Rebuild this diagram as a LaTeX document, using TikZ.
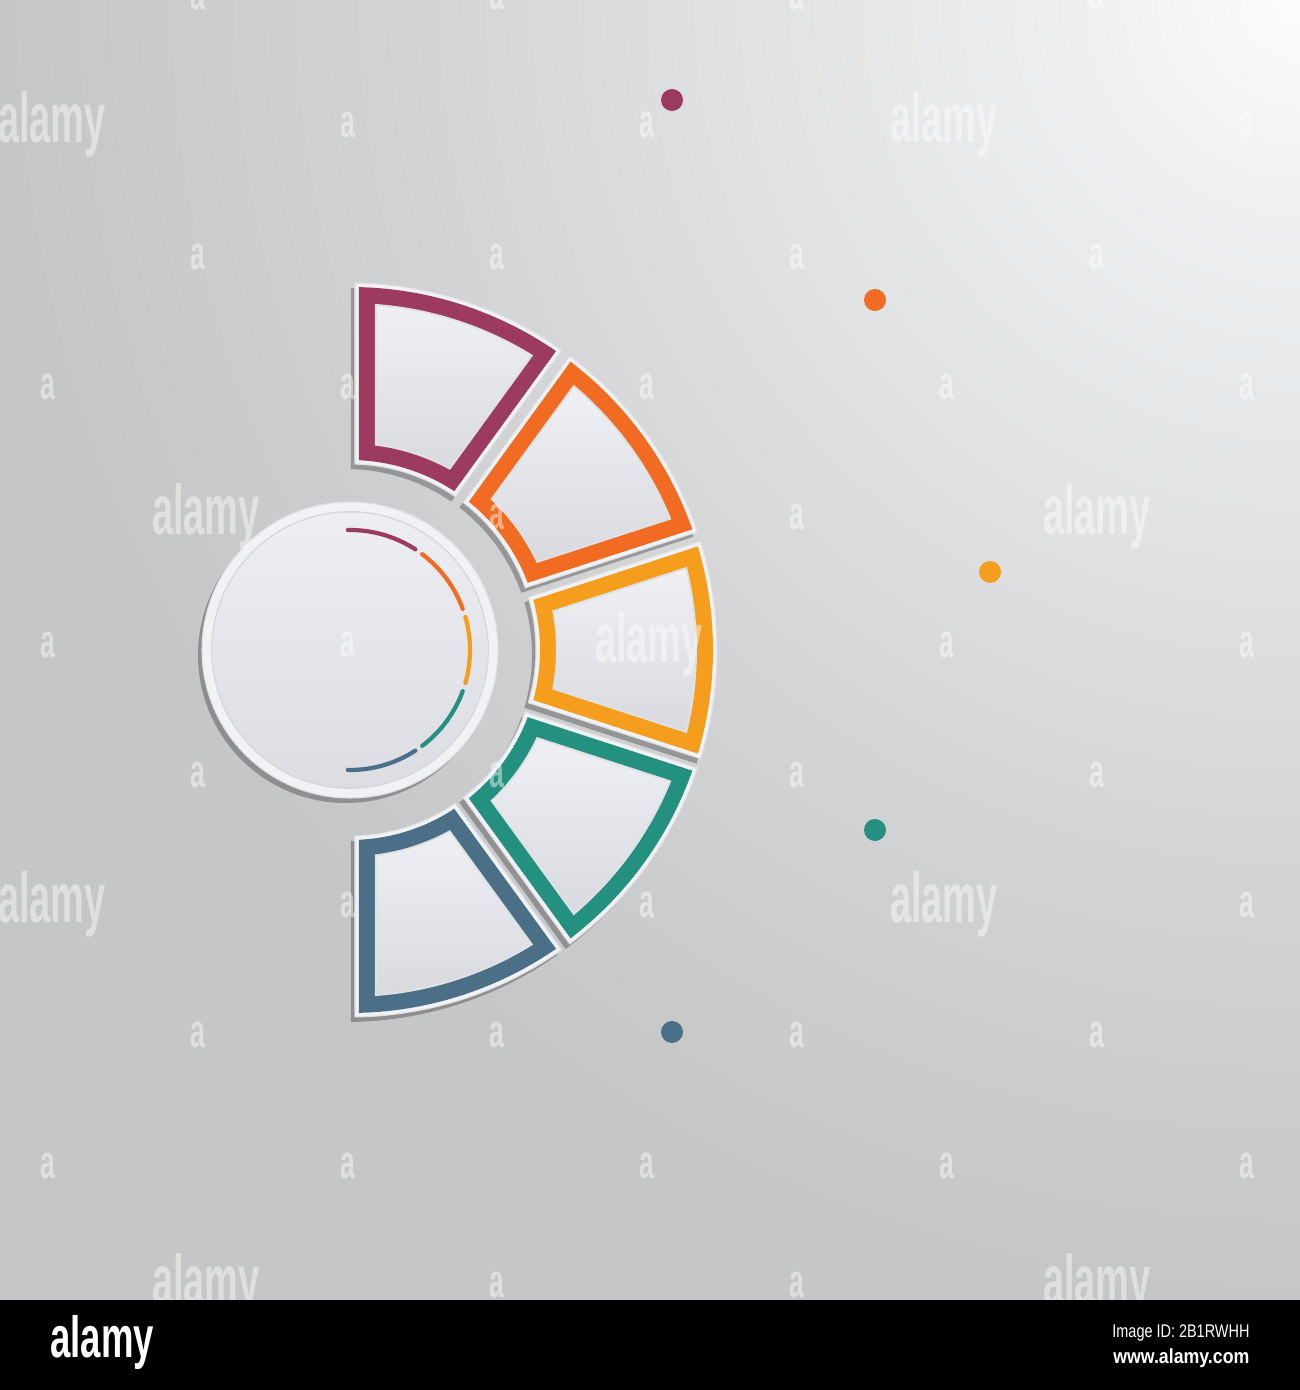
\documentclass[tikz,border=0pt]{standalone}
\usepackage{fontspec}
\setmainfont{Liberation Sans}
\usetikzlibrary{positioning}

\definecolor{segpurple}{HTML}{9C3A5F}
\definecolor{segorange}{HTML}{F26B22}
\definecolor{segyellow}{HTML}{F59E1E}
\definecolor{segteal}{HTML}{24907F}
\definecolor{segblue}{HTML}{4A6F86}
\definecolor{rimlight}{HTML}{F1F2F5}
\definecolor{facetop}{HTML}{EEF0F4}
\definecolor{facebot}{HTML}{D8DAE0}
\definecolor{hubtop}{HTML}{EDEEF2}
\definecolor{hubbot}{HTML}{DCDDE3}
\definecolor{bgbright}{HTML}{FCFCFC}
\definecolor{bglight}{HTML}{F0F0F1}
\definecolor{bgmid}{HTML}{E1E2E3}
\definecolor{bgdim}{HTML}{D2D3D5}
\definecolor{bgdark}{HTML}{C5C6C8}

\pgfdeclareradialshading{backdrop}{\pgfpoint{0bp}{0bp}}{%
  color(0bp)=(bgbright); color(3.6bp)=(bglight); color(9.8bp)=(bgmid);
  color(16bp)=(bgdim); color(23.2bp)=(bgdark); color(50bp)=(bgdark)}

% ring sector: #1 start angle, #2 end angle, #3 half gap, #4 inner r, #5 outer r
\newcommand{\sectorpath}[5]{%
  ({#1+asin(#3/#5)}:#5) arc[start angle={#1+asin(#3/#5)}, end angle={#2-asin(#3/#5)}, radius=#5]
  -- ({#2-asin(#3/#4)}:#4) arc[start angle={#2-asin(#3/#4)}, end angle={#1+asin(#3/#4)}, radius=#4]
  -- cycle}

\begin{document}
\begin{tikzpicture}[
    x = 0.01cm, y = 0.01cm,
    dot/.style = {circle, inner sep=0pt, minimum size=0.22cm, fill=#1},
    wmark/.style = {text=white, text opacity=0.45, anchor=base, inner sep=0pt,
    font=\fontsize{20}{20}\selectfont\bfseries, xscale=0.54},
    wletter/.style = {text=white, text opacity=0.45, anchor=base, inner sep=0pt,
    font=\fontsize{13.5}{13.5}\selectfont\bfseries, xscale=0.56},
    tick arc/.style = {draw=#1, line width=1.2pt, line cap=round},
    shadowfill/.style = {black, opacity=0.28}
    ]
    \useasboundingbox (0,0) rectangle (1300,1390);
    %
    % backdrop
    \begin{scope}
        \clip (0,90) rectangle (1300,1390);
        \fill[bgdark] (0,90) rectangle (1300,1390);
        \shade[shading=backdrop] (1300,1390) circle (1400);
    \end{scope}
    %
    % ring of five sectors round the hub
    \begin{scope}[shift={(350,740)}]
        \foreach \col [count=\k from 0] in {segpurple,segorange,segyellow,segteal,segblue}{
            \pgfmathsetmacro{\aend}{90-36*\k}
            \pgfmathsetmacro{\abeg}{54-36*\k}
            \fill[shadowfill, shift={(-4,-5)}] \sectorpath{\abeg}{\aend}{5}{186}{367};
            \fill[rimlight, draw=black!12, line width=0.3pt] \sectorpath{\abeg}{\aend}{5}{186}{367};
            \fill[\col] \sectorpath{\abeg}{\aend}{9}{190}{363};
            \fill[rimlight!85!gray] \sectorpath{\abeg}{\aend}{25}{206}{347};
            \shade[top color=facetop, bottom color=facebot] \sectorpath{\abeg}{\aend}{27}{208}{345};
        }
        %
        % hub
        \fill[shadowfill] (-4,-5) circle (148);
        \fill[rimlight, draw=black!12, line width=0.3pt] (0,0) circle (148);
        \draw[black!16, line width=0.5pt] (0,0) circle (138);
        \shade[top color=hubtop, bottom color=hubbot] (0,0) circle (137.5);
        \foreach \a/\b/\col in {91/57/segpurple, 53/20/segorange, 16/-16/segyellow,
                                -20/-53/segteal, -57/-91/segblue}
            \draw[tick arc=\col] (\a:120) arc[start angle=\a, end angle=\b, radius=120];
    \end{scope}
    %
    % markers
    \node (dotpurple) [dot=segpurple] at (672,1290) {};
    \node (dotorange) [dot=segorange] at (875,1090) {};
    \node (dotyellow) [dot=segyellow] at (990,818) {};
    \node (dotteal)   [dot=segteal]   at (875,560) {};
    \node (dotblue)   [dot=segblue]   at (672,358) {};
    %
    % watermark
    \begin{scope}
        \clip (0,90) rectangle (1300,1390);
        \foreach \px/\py in {52/1247, 944/1247, 206/855, 1097/855, 649/727,
                             52/467, 944/467, 206/85, 1097/85}
            \node[wmark] at (\px,\py) {alamy};
        \foreach \px/\py in {348/1252, 647/1252, 1247/1252,
                             48/990, 348/990, 647/990, 947/990, 1247/990,
                             48/732, 348/732, 947/732, 1247/732,
                             348/472, 647/472, 1247/472,
                             48/212, 348/212, 647/212, 947/212, 1247/212,
                             198/1380, 497/1380, 797/1380, 1097/1380,
                             198/1120, 497/1120, 797/1120, 1097/1120,
                             497/860, 797/860,
                             198/602, 497/602, 797/602, 1097/602,
                             198/342, 497/342, 797/342, 1097/342,
                             497/92, 797/92}
            \node[wletter] at (\px,\py) {a};
    \end{scope}
    %
    % bottom bar
    \fill[black] (0,0) rectangle (1300,90);
    \node (barlogo) [anchor=base west, inner sep=0pt, text=white, xscale=0.63,
        font=\fontsize{16.5}{16.5}\selectfont\bfseries] at (50,32) {alamy};
    \node (imgid) [anchor=base east, inner sep=0pt, text=white, xscale=0.79,
        font=\fontsize{5.2}{6}\selectfont] at (1250,52) {Image ID: 2B1RWHH};
    \node (website) [below left=0.06cm and 0cm of imgid.south east, inner sep=0pt,
        text=white, xscale=0.87, font=\fontsize{5.8}{7}\selectfont\bfseries] {www.alamy.com};
\end{tikzpicture}
\end{document}
